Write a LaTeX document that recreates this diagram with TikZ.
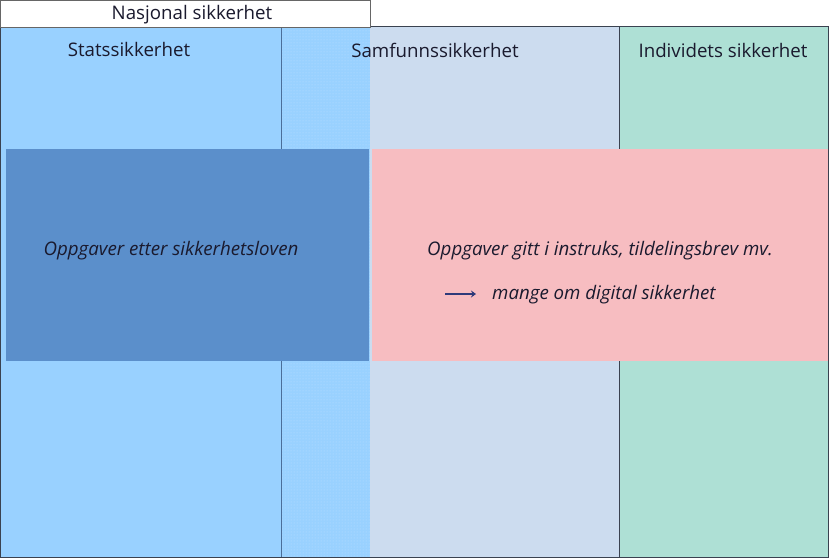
\documentclass[tikz,border=0pt]{standalone}
\usepackage{fontspec}
\setmainfont{Open Sans}
\usetikzlibrary{patterns,arrows.meta}
\definecolor{statsc}{HTML}{99D1FF}
\definecolor{samfc}{HTML}{CCDCEF}
\definecolor{indivc}{HTML}{AEE0D5}
\definecolor{innerblue}{HTML}{5B8FCB}
\definecolor{pinkc}{HTML}{F7BDC1}
\definecolor{linec}{HTML}{3A4250}
\definecolor{divc}{HTML}{4A6E99}
\definecolor{txtc}{HTML}{1A1A2E}
\definecolor{arrc}{HTML}{2E3A7A}
\begin{document}
\begin{tikzpicture}[x=1pt,y=-1pt,
  region/.style={draw=none, inner sep=0pt, outer sep=0pt, anchor=north west},
  hdr/.style={font=\fontsize{18.7}{21}\selectfont, text=txtc, inner sep=0pt},
  itxt/.style={font=\fontsize{18.7}{21}\selectfont\itshape, text=txtc, inner sep=0pt}]
\useasboundingbox (0,0) rectangle (830,559);
% background columns
\node[region, fill=samfc, minimum width=338pt, minimum height=530pt] (samf) at (281,27) {};
\node[region, fill=statsc, minimum width=370pt, minimum height=530pt] (stats) at (0,27) {};
\node[region, pattern=dots, pattern color=white!35!statsc, minimum width=89pt, minimum height=530pt] (overlap) at (281,27) {};
\node[region, fill=indivc, minimum width=209pt, minimum height=530pt] (indiv) at (619,27) {};
% divider lines
\draw[divc, line width=1pt] (overlap.north west) -- (overlap.south west);
\draw[linec, line width=1pt] (indiv.north west) -- (indiv.south west);
\draw[linec, line width=1pt] (stats.north west) rectangle (indiv.south east);
% top box
\node[region, draw=gray!80!black, fill=white, line width=0.8pt, minimum width=370pt, minimum height=27pt] (nasj) at (0,0) {};
\node[hdr] (nasjt) at (192,15) {Nasjonal sikkerhet};
% headers
\node[hdr] (statst) at (129,49) {Statssikkerhet};
\node[hdr] (samft) at (435,50) {Samfunnssikkerhet};
\node[hdr] (indivt) at (723,50) {Individets sikkerhet};
% inner boxes
\node[region, fill=innerblue, minimum width=363pt, minimum height=212pt] (lov) at (6,149) {};
\node[region, fill=pinkc, minimum width=456pt, minimum height=212pt] (instr) at (372,149) {};
\node[itxt] (lovt) at (171,251) {Oppgaver etter sikkerhetsloven};
\node[itxt] (instrt) at (600,251) {Oppgaver gitt i instruks, tildelingsbrev mv.};
\node[itxt, anchor=west] (digt) at (492,295) {mange om digital sikkerhet};
\coordinate (arrs) at (445,294);
\coordinate (arre) at (476,294);
\draw[arrc, line width=2.2pt, -{Stealth[length=5pt,width=7pt]}] (arrs) -- (arre);
\end{tikzpicture}
\end{document}
